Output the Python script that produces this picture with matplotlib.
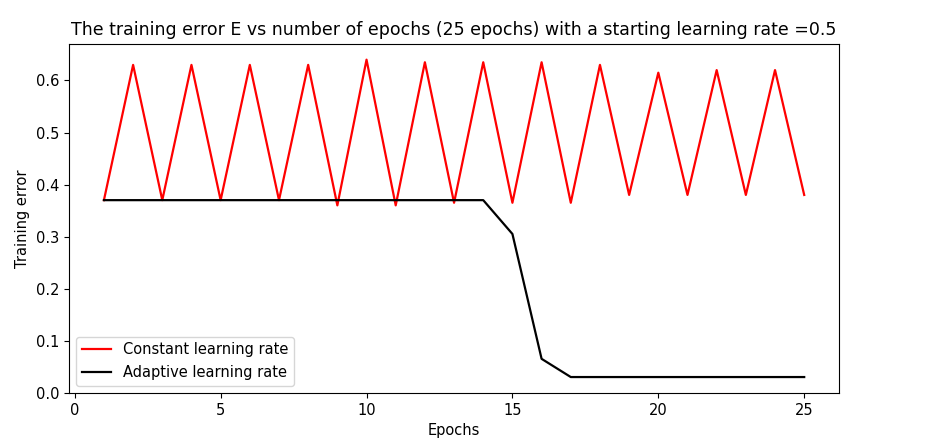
import numpy as np
import matplotlib
matplotlib.use("Agg")
import matplotlib.pyplot as plt

# Epoch numbers and training errors
epochs = list(range(1, 26))
constant_lr_error = [0.37, 0.63, 0.37, 0.63, 0.37, 0.63, 0.37, 0.63, 0.36, 0.64,
                     0.36, 0.635, 0.365, 0.635, 0.365, 0.635, 0.365, 0.63, 0.38, 0.615,
                     0.38, 0.62, 0.38, 0.62, 0.38]
adaptive_lr_error = [0.37, 0.37, 0.37, 0.37, 0.37, 0.37, 0.37, 0.37, 0.37, 0.37,
                     0.37, 0.37, 0.37, 0.37, 0.305, 0.065, 0.03, 0.03, 0.03, 0.03,
                     0.03, 0.03, 0.03, 0.03, 0.03]

plt.rcParams['font.size'] = 10.5

fig = plt.figure(figsize=(9.44, 4.47), dpi=100)
ax = fig.add_axes([0.073, 0.121, 0.816, 0.781])

ax.plot(epochs, constant_lr_error, color='red', linewidth=1.6, label="Constant learning rate")
ax.plot(epochs, adaptive_lr_error, color='black', linewidth=1.6, label="Adaptive learning rate")

ax.set_xlabel("Epochs")
ax.set_ylabel("Training error")
ax.set_title("The training error E vs number of epochs (25 epochs) with a starting learning rate =0.5",
             fontsize=12.5)
ax.legend(loc="lower left")

fig.savefig("out.png", dpi=100)
